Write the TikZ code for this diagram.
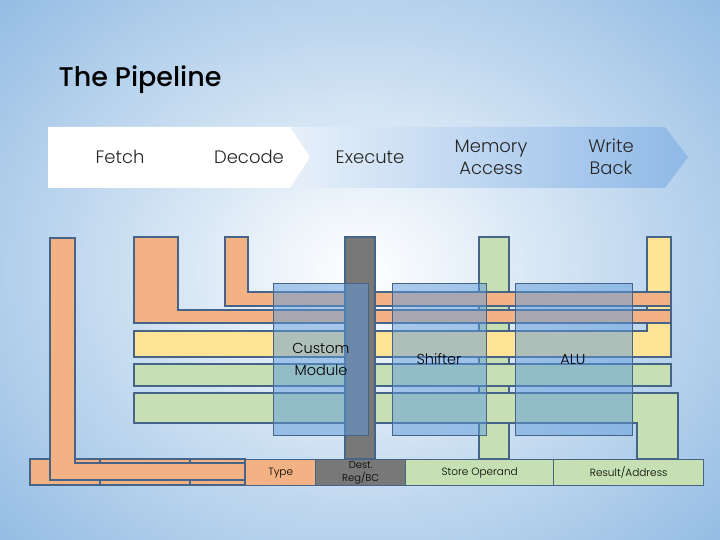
\documentclass[tikz,border=0pt]{standalone}
\usepackage{fontspec}
\setmainfont{Poppins}
\newfontfamily\lightf{Poppins Light}
\newfontfamily\medf{Poppins Medium}
\usetikzlibrary{shapes.geometric}
\definecolor{edge}{RGB}{70,100,135}
\definecolor{org}{RGB}{242,178,132}
\definecolor{yel}{RGB}{255,228,150}
\definecolor{grn}{RGB}{198,224,180}
\definecolor{gry}{RGB}{120,120,120}
\definecolor{blu}{RGB}{95,155,220}
\definecolor{bgout}{RGB}{150,190,228}
\begin{document}
\begin{tikzpicture}[x=1pt,y=-1pt,
  bar/.style={draw=edge,line width=1.4pt},
  mod/.style={draw=edge,line width=1.4pt,fill=blu,fill opacity=0.5,text opacity=1},
  hdr/.style={font=\lightf\fontsize{18}{22}\selectfont,align=center,text=black!85},
  sml/.style={font=\lightf\fontsize{10.5}{12}\selectfont,align=center}]
\useasboundingbox (0,0) rectangle (720,540);
\shade[inner color=white,outer color=bgout] (-120,-120) rectangle (840,660);
\node[anchor=west,font=\medf\fontsize{27}{30}\selectfont] (title) at (55,80) {The Pipeline};
% header band
\shade[left color=blu!15,right color=blu!70] (290,127)--(665,127)--(688,157)--(665,188)--(290,188)--(310,157)--cycle;
\fill[white] (48,127)--(290,127)--(310,157)--(290,188)--(48,188)--cycle;
\node[hdr] (fetch) at (120,157) {Fetch};
\node[hdr] (decode) at (249,157) {Decode};
\node[hdr] (exec) at (370,157) {Execute};
\node[hdr] (mem) at (491,157) {Memory\\Access};
\node[hdr] (wb) at (611,157) {Write\\Back};
% bottom row boxes
\draw[bar,fill=org] (30,459) rectangle (100,485);
\draw[bar,fill=org] (100,459) rectangle (190,485);
\draw[bar,fill=org] (190,459) rectangle (245,485);
% verticals behind
\draw[bar,fill=grn] (479,237) rectangle (509,459);
\draw[bar,fill=grn] (134,393)--(678,393)--(678,459)--(637,459)--(637,423)--(134,423)--cycle;
\draw[bar,fill=grn] (134,364) rectangle (671,386);
\draw[bar,fill=yel] (134,331)--(647,331)--(647,237)--(671,237)--(671,357)--(134,357)--cycle;
\draw[bar,fill=org] (134,237)--(178,237)--(178,310)--(671,310)--(671,323)--(134,323)--cycle;
\draw[bar,fill=org] (225,237)--(248,237)--(248,292)--(671,292)--(671,306)--(225,306)--cycle;
\draw[bar,fill=org] (50,238)--(75,238)--(75,463)--(245,463)--(245,480)--(50,480)--cycle;
\draw[bar,fill=gry] (345,237) rectangle (375,459);
% modules
\node[mod,minimum width=95pt,minimum height=152pt,anchor=north west,inner sep=0pt] (cm) at (273,283) {};
\node[font=\lightf\fontsize{14.5}{22}\selectfont,align=center] (cmt) at (321,359) {Custom\\Module};
\node[mod,minimum width=94pt,minimum height=152pt,anchor=north west,inner sep=0pt] (sh) at (392,283) {};
\node[font=\lightf\fontsize{14.5}{17}\selectfont] (sht) at (439,359) {Shifter};
\node[mod,minimum width=117pt,minimum height=152pt,anchor=north west,inner sep=0pt] (alu) at (515,283) {};
\node[font=\lightf\fontsize{14.5}{17}\selectfont] (alut) at (573,359) {ALU};
% labelled bottom boxes
\node[bar,fill=org,sml,minimum width=70pt,minimum height=26pt,inner sep=0pt,anchor=north west] (type) at (245,459) {Type};
\node[bar,fill=gry,sml,minimum width=90pt,minimum height=26pt,inner sep=0pt,anchor=north west,font=\lightf\fontsize{10}{13}\selectfont] (dest) at (315,459) {Dest.\\Reg/BC};
\node[bar,fill=grn,sml,minimum width=148pt,minimum height=26pt,inner sep=0pt,anchor=north west] (store) at (405,459) {Store Operand};
\node[bar,fill=grn,sml,minimum width=150pt,minimum height=26pt,inner sep=0pt,anchor=north west] (res) at (553,459) {Result/Address};
\end{tikzpicture}
\end{document}
